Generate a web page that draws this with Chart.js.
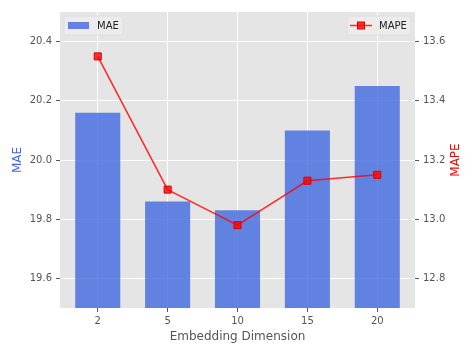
<!DOCTYPE html>
<html>
<head>
<meta charset="utf-8">
<script src="https://cdn.jsdelivr.net/npm/chart.js@4"></script>
<style>
  html, body { margin: 0; padding: 0; background: #ffffff; }
  #wrap { width: 474px; height: 355px; }
</style>
</head>
<body>
<div id="wrap"><canvas id="c" width="474" height="355"></canvas></div>
<script>
const categories = ['2', '5', '10', '15', '20'];
const maeValues = [20.16, 19.86, 19.83, 20.10, 20.25];
const mapeValues = [13.55, 13.10, 12.98, 13.13, 13.15];
const maeTicks = [19.6, 19.8, 20.0, 20.2, 20.4];
const mapeTicks = [12.8, 13.0, 13.2, 13.4, 13.6];

const FONT = 'DejaVu Sans';
const TICK = '#555555';
const MAE_COLOR = 'rgba(65,105,225,0.8)';
const MAPE_LINE = 'rgba(255,0,0,0.8)';

const bgPlugin = {
  id: 'bg',
  beforeDraw(chart) {
    const {ctx, chartArea: a} = chart;
    ctx.save();
    ctx.fillStyle = '#ffffff';
    ctx.fillRect(0, 0, chart.width, chart.height);
    ctx.fillStyle = '#e5e5e5';
    ctx.fillRect(a.left, a.top, a.right - a.left, a.bottom - a.top);
    ctx.restore();
  }
};

function roundRect(ctx, x, y, w, h, r) {
  ctx.beginPath();
  ctx.moveTo(x + r, y);
  ctx.lineTo(x + w - r, y);
  ctx.quadraticCurveTo(x + w, y, x + w, y + r);
  ctx.lineTo(x + w, y + h - r);
  ctx.quadraticCurveTo(x + w, y + h, x + w - r, y + h);
  ctx.lineTo(x + r, y + h);
  ctx.quadraticCurveTo(x, y + h, x, y + h - r);
  ctx.lineTo(x, y + r);
  ctx.quadraticCurveTo(x, y, x + r, y);
  ctx.closePath();
}

const legendPlugin = {
  id: 'twoLegends',
  afterDraw(chart) {
    const {ctx, chartArea: a} = chart;
    const barDs = chart.data.datasets[1];
    const lineDs = chart.data.datasets[0];
    ctx.save();
    ctx.font = '10px "' + FONT + '"';
    ctx.textBaseline = 'middle';
    // MAE legend (upper left)
    let bx = a.left + 4, by = a.top + 4, bw = 59, bh = 19;
    roundRect(ctx, bx, by, bw, bh, 2);
    ctx.fillStyle = 'rgba(236,236,236,0.9)';
    ctx.fill();
    ctx.strokeStyle = 'rgba(220,220,220,0.8)';
    ctx.lineWidth = 1;
    ctx.stroke();
    ctx.fillStyle = barDs.backgroundColor;
    ctx.fillRect(bx + 4, by + 6, 21, 7);
    ctx.fillStyle = '#222222';
    ctx.textAlign = 'left';
    ctx.fillText(barDs.label, bx + 33, by + bh / 2 + 0.5);
    // MAPE legend (upper right)
    bw = 64; bx = a.right - 4 - bw;
    roundRect(ctx, bx, by, bw, bh, 2);
    ctx.fillStyle = 'rgba(236,236,236,0.9)';
    ctx.fill();
    ctx.strokeStyle = 'rgba(220,220,220,0.8)';
    ctx.stroke();
    const cy = by + bh / 2;
    ctx.strokeStyle = lineDs.borderColor;
    ctx.lineWidth = 1.5;
    ctx.beginPath();
    ctx.moveTo(bx + 3, cy);
    ctx.lineTo(bx + 25, cy);
    ctx.stroke();
    ctx.fillStyle = lineDs.pointBackgroundColor;
    ctx.strokeStyle = lineDs.pointBorderColor;
    ctx.lineWidth = 1;
    ctx.fillRect(bx + 14 - 3.5, cy - 3.5, 7, 7);
    ctx.strokeRect(bx + 14 - 3.5, cy - 3.5, 7, 7);
    ctx.fillStyle = '#222222';
    ctx.fillText(lineDs.label, bx + 32, cy + 0.5);
    ctx.restore();
  }
};

const rightTitlePlugin = {
  id: 'rightTitle',
  afterDraw(chart) {
    const {ctx, chartArea: a} = chart;
    ctx.save();
    ctx.translate(456, (a.top + a.bottom) / 2);
    ctx.rotate(-Math.PI / 2);
    ctx.font = '12px "' + FONT + '"';
    ctx.fillStyle = '#ff0000';
    ctx.textAlign = 'center';
    ctx.textBaseline = 'middle';
    ctx.fillText('MAPE', 0, 0);
    ctx.restore();
  }
};

new Chart(document.getElementById('c'), {
  type: 'bar',
  data: {
    datasets: [
      {
        type: 'line',
        label: 'MAPE',
        data: mapeValues.map((v, i) => ({x: i, y: v})),
        yAxisID: 'y1',
        xAxisID: 'x',
        borderColor: MAPE_LINE,
        borderWidth: 1.6,
        pointStyle: 'rect',
        pointRadius: 5,
        pointBorderWidth: 1,
        pointBackgroundColor: 'rgba(255,0,0,0.8)',
        pointBorderColor: '#e00000',
        tension: 0,
        order: 0
      },
      {
        type: 'bar',
        label: 'MAE',
        data: maeValues.map((v, i) => ({x: i, y: v})),
        yAxisID: 'y',
        xAxisID: 'x',
        backgroundColor: MAE_COLOR,
        borderWidth: 0,
        barPercentage: 0.645,
        categoryPercentage: 1.0,
        order: 1
      }
    ]
  },
  options: {
    responsive: false,
    animation: false,
    devicePixelRatio: 1,
    layout: { padding: { top: 12, left: 0, right: 0, bottom: 0 } },
    plugins: { legend: { display: false }, tooltip: { enabled: false } },
    scales: {
      x: {
        type: 'linear',
        offset: false,
        min: -0.54,
        max: 4.54,
        afterBuildTicks: (s) => { s.ticks = categories.map((c, i) => ({value: i})); },
        afterFit: (s) => { s.height = 47; },
        border: { display: false },
        grid: { offset: false, color: '#ffffff', lineWidth: 1, tickColor: TICK, tickLength: 4, drawTicks: true },
        ticks: {
          color: TICK, padding: 3, maxRotation: 0, autoSkip: false,
          font: { family: FONT, size: 10 },
          callback: (v) => categories[v]
        },
        title: {
          display: true, text: 'Embedding Dimension', color: TICK,
          font: { family: FONT, size: 12 }, padding: { top: 0, bottom: 11 }
        }
      },
      y: {
        position: 'left',
        min: 19.5,
        max: 20.5,
        afterBuildTicks: (s) => { s.ticks = maeTicks.map(v => ({value: v})); },
        afterFit: (s) => { s.width = 60; },
        border: { display: false },
        grid: { color: '#ffffff', lineWidth: 1, tickColor: TICK, tickLength: 4 },
        ticks: {
          color: TICK, padding: 4,
          font: { family: FONT, size: 10 },
          callback: (v) => Number(v).toFixed(1)
        },
        title: {
          display: true, text: 'MAE', color: '#4169e1',
          font: { family: FONT, size: 12 }, padding: { top: 11, bottom: 0 }
        }
      },
      y1: {
        position: 'right',
        min: 12.7,
        max: 13.7,
        afterBuildTicks: (s) => { s.ticks = mapeTicks.map(v => ({value: v})); },
        afterFit: (s) => { s.width = 59; },
        border: { display: false },
        grid: { drawOnChartArea: false, tickColor: TICK, tickLength: 4 },
        ticks: {
          color: TICK, padding: 4,
          font: { family: FONT, size: 10 },
          callback: (v) => Number(v).toFixed(1)
        }
      }
    }
  },
  plugins: [bgPlugin, legendPlugin, rightTitlePlugin]
});
</script>
</body>
</html>
